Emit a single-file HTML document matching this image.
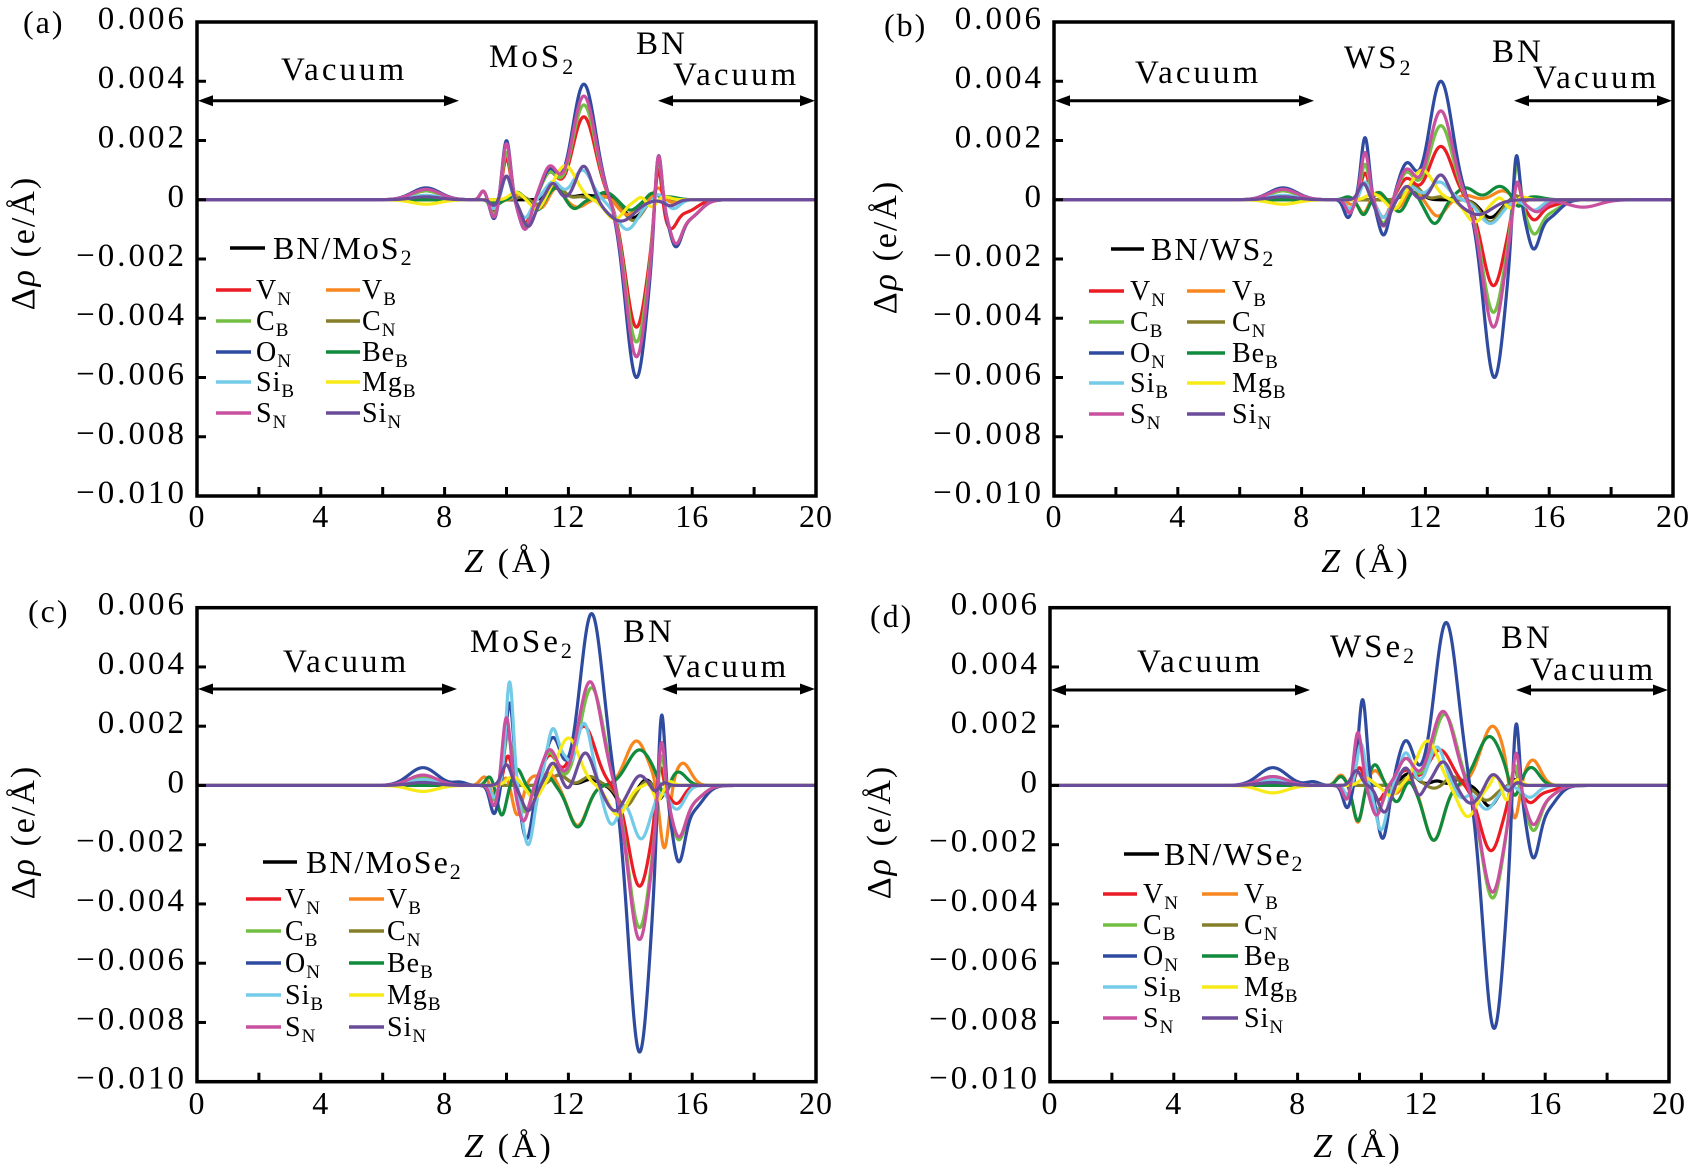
<!DOCTYPE html>
<html><head><meta charset="utf-8">
<style>
html,body{margin:0;padding:0;background:#fff;}
svg{display:block;}
text{font-family:"Liberation Serif","DejaVu Serif",serif;fill:#000;}
.yt{font-size:33px;letter-spacing:3px;text-anchor:end;}
.xt{font-size:32px;letter-spacing:1px;text-anchor:middle;}
.an{font-size:33px;letter-spacing:3px;}
.lg{font-size:28px;letter-spacing:1px;}
.lb{font-size:32px;letter-spacing:2px;}
.pl{font-size:32px;letter-spacing:2px;}
.ax{font-size:34px;letter-spacing:3px;text-anchor:middle;}
.ay{font-size:34px;letter-spacing:2px;text-anchor:middle;}
</style></head><body>
<svg id="s" width="1695" height="1166" viewBox="0 0 1695 1166" xmlns="http://www.w3.org/2000/svg">
<rect x="0" y="0" width="1695" height="1166" fill="#fff"/>
<g id="g"></g>

<!-- Panel labels -->
<text class="pl" x="23" y="33">(a)</text>
<text class="pl" x="884" y="36">(b)</text>
<text class="pl" x="28" y="622">(c)</text>
<text class="pl" x="870" y="627">(d)</text>

<!-- Y tick labels panel a -->
<text class="yt" x="187" y="29">0.006</text>
<text class="yt" x="187" y="88">0.004</text>
<text class="yt" x="187" y="147.5">0.002</text>
<text class="yt" x="187" y="207">0</text>
<text class="yt" x="187" y="266">−0.002</text>
<text class="yt" x="187" y="325">−0.004</text>
<text class="yt" x="187" y="384.5">−0.006</text>
<text class="yt" x="187" y="444">−0.008</text>
<text class="yt" x="187" y="503">−0.010</text>
<!-- panel b -->
<text class="yt" x="1044" y="29">0.006</text>
<text class="yt" x="1044" y="88">0.004</text>
<text class="yt" x="1044" y="147.5">0.002</text>
<text class="yt" x="1044" y="207">0</text>
<text class="yt" x="1044" y="266">−0.002</text>
<text class="yt" x="1044" y="325">−0.004</text>
<text class="yt" x="1044" y="384.5">−0.006</text>
<text class="yt" x="1044" y="444">−0.008</text>
<text class="yt" x="1044" y="503">−0.010</text>
<!-- panel c -->
<text class="yt" x="187" y="614.7">0.006</text>
<text class="yt" x="187" y="674">0.004</text>
<text class="yt" x="187" y="733.2">0.002</text>
<text class="yt" x="187" y="792.5">0</text>
<text class="yt" x="187" y="851.7">−0.002</text>
<text class="yt" x="187" y="911">−0.004</text>
<text class="yt" x="187" y="970.2">−0.006</text>
<text class="yt" x="187" y="1029.5">−0.008</text>
<text class="yt" x="187" y="1088.7">−0.010</text>
<!-- panel d -->
<text class="yt" x="1040" y="614.7">0.006</text>
<text class="yt" x="1040" y="674">0.004</text>
<text class="yt" x="1040" y="733.2">0.002</text>
<text class="yt" x="1040" y="792.5">0</text>
<text class="yt" x="1040" y="851.7">−0.002</text>
<text class="yt" x="1040" y="911">−0.004</text>
<text class="yt" x="1040" y="970.2">−0.006</text>
<text class="yt" x="1040" y="1029.5">−0.008</text>
<text class="yt" x="1040" y="1088.7">−0.010</text>

<!-- X tick labels -->
<text class="xt" x="197" y="527">0</text>
<text class="xt" x="320.8" y="527">4</text>
<text class="xt" x="444.6" y="527">8</text>
<text class="xt" x="568.4" y="527">12</text>
<text class="xt" x="692.2" y="527">16</text>
<text class="xt" x="816" y="527">20</text>

<text class="xt" x="1054" y="527">0</text>
<text class="xt" x="1177.8" y="527">4</text>
<text class="xt" x="1301.6" y="527">8</text>
<text class="xt" x="1425.4" y="527">12</text>
<text class="xt" x="1549.2" y="527">16</text>
<text class="xt" x="1673" y="527">20</text>

<text class="xt" x="197" y="1114">0</text>
<text class="xt" x="320.8" y="1114">4</text>
<text class="xt" x="444.6" y="1114">8</text>
<text class="xt" x="568.4" y="1114">12</text>
<text class="xt" x="692.2" y="1114">16</text>
<text class="xt" x="816" y="1114">20</text>

<text class="xt" x="1050" y="1114">0</text>
<text class="xt" x="1173.8" y="1114">4</text>
<text class="xt" x="1297.6" y="1114">8</text>
<text class="xt" x="1421.4" y="1114">12</text>
<text class="xt" x="1545.2" y="1114">16</text>
<text class="xt" x="1669" y="1114">20</text>

<!-- Axis titles -->
<text class="ax" x="509" y="572"><tspan font-style="italic">Z</tspan> (Å)</text>
<text class="ax" x="1366" y="572"><tspan font-style="italic">Z</tspan> (Å)</text>
<text class="ax" x="509" y="1157"><tspan font-style="italic">Z</tspan> (Å)</text>
<text class="ax" x="1358" y="1157"><tspan font-style="italic">Z</tspan> (Å)</text>

<text class="ay" transform="translate(22,243) rotate(-90)" y="12">Δ<tspan font-style="italic">ρ</tspan> (e/Å)</text>
<text class="ay" transform="translate(884,247) rotate(-90)" y="12">Δ<tspan font-style="italic">ρ</tspan> (e/Å)</text>
<text class="ay" transform="translate(22,832) rotate(-90)" y="12">Δ<tspan font-style="italic">ρ</tspan> (e/Å)</text>
<text class="ay" transform="translate(878,832) rotate(-90)" y="12">Δ<tspan font-style="italic">ρ</tspan> (e/Å)</text>

<!-- Annotations -->
<text class="an" x="281" y="80">Vacuum</text>
<text class="an" x="489" y="67">MoS<tspan font-size="22" dy="7">2</tspan></text>
<text class="an" x="636" y="54">BN</text>
<text class="an" x="673" y="85">Vacuum</text>

<text class="an" x="1135" y="83">Vacuum</text>
<text class="an" x="1344" y="68">WS<tspan font-size="22" dy="7">2</tspan></text>
<text class="an" x="1492" y="62">BN</text>
<text class="an" x="1533" y="88">Vacuum</text>

<text class="an" x="283" y="672">Vacuum</text>
<text class="an" x="470" y="652">MoSe<tspan font-size="22" dy="6">2</tspan></text>
<text class="an" x="623" y="642">BN</text>
<text class="an" x="663" y="677">Vacuum</text>

<text class="an" x="1137" y="672">Vacuum</text>
<text class="an" x="1330" y="657">WSe<tspan font-size="22" dy="6">2</tspan></text>
<text class="an" x="1501" y="648">BN</text>
<text class="an" x="1530" y="680">Vacuum</text>

<!-- Legends -->
<text class="lb" x="273" y="259">BN/MoS<tspan font-size="22" dy="6">2</tspan></text>
<text class="lg" x="256" y="299">V<tspan font-size="19" dy="6">N</tspan></text>
<text class="lg" x="256" y="330">C<tspan font-size="19" dy="6">B</tspan></text>
<text class="lg" x="256" y="361">O<tspan font-size="19" dy="6">N</tspan></text>
<text class="lg" x="256" y="391">Si<tspan font-size="19" dy="6">B</tspan></text>
<text class="lg" x="256" y="422">S<tspan font-size="19" dy="6">N</tspan></text>
<text class="lg" x="362" y="299">V<tspan font-size="19" dy="6">B</tspan></text>
<text class="lg" x="362" y="330">C<tspan font-size="19" dy="6">N</tspan></text>
<text class="lg" x="362" y="361">Be<tspan font-size="19" dy="6">B</tspan></text>
<text class="lg" x="362" y="391">Mg<tspan font-size="19" dy="6">B</tspan></text>
<text class="lg" x="362" y="422">Si<tspan font-size="19" dy="6">N</tspan></text>

<text class="lb" x="1151" y="260">BN/WS<tspan font-size="22" dy="6">2</tspan></text>
<text class="lg" x="1130" y="300">V<tspan font-size="19" dy="6">N</tspan></text>
<text class="lg" x="1130" y="331">C<tspan font-size="19" dy="6">B</tspan></text>
<text class="lg" x="1130" y="362">O<tspan font-size="19" dy="6">N</tspan></text>
<text class="lg" x="1130" y="392">Si<tspan font-size="19" dy="6">B</tspan></text>
<text class="lg" x="1130" y="423">S<tspan font-size="19" dy="6">N</tspan></text>
<text class="lg" x="1232" y="300">V<tspan font-size="19" dy="6">B</tspan></text>
<text class="lg" x="1232" y="331">C<tspan font-size="19" dy="6">N</tspan></text>
<text class="lg" x="1232" y="362">Be<tspan font-size="19" dy="6">B</tspan></text>
<text class="lg" x="1232" y="392">Mg<tspan font-size="19" dy="6">B</tspan></text>
<text class="lg" x="1232" y="423">Si<tspan font-size="19" dy="6">N</tspan></text>

<text class="lb" x="306" y="873">BN/MoSe<tspan font-size="22" dy="6">2</tspan></text>
<text class="lg" x="285" y="908">V<tspan font-size="19" dy="6">N</tspan></text>
<text class="lg" x="285" y="940">C<tspan font-size="19" dy="6">B</tspan></text>
<text class="lg" x="285" y="972">O<tspan font-size="19" dy="6">N</tspan></text>
<text class="lg" x="285" y="1004">Si<tspan font-size="19" dy="6">B</tspan></text>
<text class="lg" x="285" y="1036">S<tspan font-size="19" dy="6">N</tspan></text>
<text class="lg" x="387" y="908">V<tspan font-size="19" dy="6">B</tspan></text>
<text class="lg" x="387" y="940">C<tspan font-size="19" dy="6">N</tspan></text>
<text class="lg" x="387" y="972">Be<tspan font-size="19" dy="6">B</tspan></text>
<text class="lg" x="387" y="1004">Mg<tspan font-size="19" dy="6">B</tspan></text>
<text class="lg" x="387" y="1036">Si<tspan font-size="19" dy="6">N</tspan></text>

<text class="lb" x="1164" y="865">BN/WSe<tspan font-size="22" dy="6">2</tspan></text>
<text class="lg" x="1143" y="903">V<tspan font-size="19" dy="6">N</tspan></text>
<text class="lg" x="1143" y="934">C<tspan font-size="19" dy="6">B</tspan></text>
<text class="lg" x="1143" y="965">O<tspan font-size="19" dy="6">N</tspan></text>
<text class="lg" x="1143" y="996">Si<tspan font-size="19" dy="6">B</tspan></text>
<text class="lg" x="1143" y="1027">S<tspan font-size="19" dy="6">N</tspan></text>
<text class="lg" x="1244" y="903">V<tspan font-size="19" dy="6">B</tspan></text>
<text class="lg" x="1244" y="934">C<tspan font-size="19" dy="6">N</tspan></text>
<text class="lg" x="1244" y="965">Be<tspan font-size="19" dy="6">B</tspan></text>
<text class="lg" x="1244" y="996">Mg<tspan font-size="19" dy="6">B</tspan></text>
<text class="lg" x="1244" y="1027">Si<tspan font-size="19" dy="6">N</tspan></text>
</svg>
<script>
(function(){
var NS='http://www.w3.org/2000/svg';
var G=document.getElementById('g');
function el(tag,a,p){var e=document.createElementNS(NS,tag);for(var k in a)e.setAttribute(k,a[k]);(p||G).appendChild(e);return e;}
var W=619,H=474;
var COL={bk:'#000000',vn:'#ec1c24',vb:'#f7861f',cb:'#72bf44',cn:'#857f2a',on:'#2e4ba0',be:'#108a3c',sib:'#74cbe8',mg:'#f7ea16',sn:'#c8509f',sin:'#6b4c9a'};
var ORDER=['bk','cn','vb','be','vn','cb','on','sib','mg','sn','sin'];
var D={
a:{
bk:[[11.6,0.4,0.25],[12.5,0.15,0.3],[13.2,0.15,0.25],[14.1,-0.6,0.3],[14.8,0.2,0.15]],
vn:[[7.4,0.3,0.45],[9.6,-0.4,0.12],[10.0,1.4,0.13],[10.6,-0.8,0.18],[11.4,0.9,0.25],[12.5,2.8,0.37],[14.2,-4.3,0.35],[14.9,1.7,0.11],[15.3,-0.8,0.2],[15.8,-0.4,0.35]],
vb:[[9.7,-0.1,0.15],[10.4,0.2,0.15],[11.1,-0.3,0.2],[11.6,0.4,0.2],[12.3,-0.25,0.25],[13.2,0.15,0.25],[13.9,-0.5,0.3],[14.9,0.4,0.15],[15.4,-0.1,0.2]],
cb:[[7.4,0.3,0.45],[9.6,-0.5,0.12],[10.0,1.6,0.13],[10.6,-0.9,0.18],[11.4,0.9,0.25],[12.5,3.2,0.37],[14.2,-4.8,0.35],[14.9,2.0,0.11],[15.45,-1.3,0.2],[15.9,-0.6,0.35]],
cn:[[10.5,0.1,0.15],[11.1,-0.2,0.2],[11.6,0.5,0.25],[12.4,0.1,0.2],[13.2,0.1,0.2],[14.1,-0.7,0.3],[14.8,0.2,0.15]],
on:[[7.4,0.4,0.45],[9.25,0.3,0.1],[9.6,-0.65,0.12],[10.0,2.0,0.13],[10.6,-1.0,0.18],[11.4,1.0,0.25],[12.5,3.9,0.37],[14.2,-6.0,0.35],[14.9,2.3,0.11],[15.45,-1.3,0.2],[15.9,-0.6,0.35]],
be:[[9.7,-0.15,0.12],[10.35,0.25,0.15],[11.0,-0.35,0.15],[11.6,0.4,0.2],[12.2,-0.3,0.2],[13.2,0.25,0.25],[14.0,-0.35,0.25],[14.7,0.2,0.15],[15.2,0.1,0.3]],
sib:[[7.4,0.15,0.45],[9.6,-0.3,0.12],[10.0,0.8,0.13],[10.6,-0.6,0.18],[11.5,0.6,0.25],[12.45,1.0,0.3],[13.9,-1.0,0.35],[14.9,0.2,0.12],[15.4,-0.3,0.2]],
mg:[[7.4,-0.15,0.45],[10.3,0.25,0.2],[11.0,-0.35,0.2],[11.9,1.15,0.35],[13.5,-0.65,0.3],[14.35,0.1,0.12],[14.7,-0.25,0.15],[15.1,0.1,0.2]],
sn:[[7.4,0.35,0.45],[9.25,0.3,0.1],[9.6,-0.6,0.12],[10.0,1.9,0.13],[10.6,-1.0,0.18],[11.4,1.1,0.25],[12.5,3.5,0.37],[14.2,-5.3,0.35],[14.9,2.2,0.11],[15.45,-1.2,0.2],[15.9,-0.6,0.35]],
sin:[[7.4,0.1,0.45],[9.6,-0.2,0.12],[10.0,0.8,0.14],[10.7,-0.9,0.2],[11.5,0.55,0.18],[12.5,1.15,0.25],[13.7,-0.72,0.45],[15.3,-0.2,0.2]]
},
b:{
bk:[[11.6,0.4,0.25],[14.1,-0.6,0.3],[14.9,0.15,0.12]],
vn:[[7.4,0.3,0.45],[9.55,-0.3,0.12],[10.05,0.9,0.13],[10.65,-0.6,0.18],[11.4,0.7,0.25],[12.5,1.8,0.37],[14.2,-2.9,0.35],[14.95,0.9,0.11],[15.5,-0.6,0.22],[16.0,-0.2,0.35]],
vb:[[9.6,-0.15,0.12],[10.0,-0.45,0.14],[10.45,0.25,0.15],[11.1,-0.3,0.2],[11.6,0.4,0.2],[12.4,-0.55,0.25],[13.3,0.15,0.25],[14.5,0.3,0.3],[15.0,-0.2,0.15]],
cb:[[7.4,0.3,0.45],[9.55,-0.4,0.12],[10.05,1.2,0.13],[10.65,-0.8,0.18],[11.4,0.9,0.25],[12.5,2.5,0.37],[14.2,-3.8,0.35],[14.95,1.6,0.11],[15.5,-1.0,0.22],[16.0,-0.4,0.35]],
cn:[[11.6,0.5,0.25],[12.5,0.1,0.2],[14.1,-0.75,0.3],[14.9,0.15,0.15]],
on:[[7.4,0.4,0.45],[9.5,-0.6,0.13],[10.05,2.1,0.13],[10.65,-1.2,0.18],[11.4,1.2,0.25],[12.5,4.0,0.37],[14.23,-6.0,0.35],[14.93,2.3,0.11],[15.48,-1.4,0.2],[15.95,-0.6,0.35]],
be:[[9.5,0.1,0.15],[10.0,-0.5,0.15],[10.5,0.25,0.15],[11.15,-0.4,0.2],[11.6,0.3,0.15],[12.3,-0.8,0.25],[13.3,0.4,0.3],[14.4,0.45,0.3],[15.0,-0.3,0.15],[15.5,0.1,0.3]],
sib:[[7.4,0.15,0.45],[9.55,-0.3,0.12],[10.05,0.6,0.13],[10.65,-0.6,0.18],[11.5,0.45,0.25],[12.45,0.6,0.3],[14.1,-0.8,0.35],[15.5,-0.35,0.25]],
mg:[[7.4,-0.15,0.45],[10.3,0.2,0.2],[11.0,-0.35,0.2],[11.9,1.0,0.35],[13.6,-0.75,0.3],[14.4,0.1,0.12],[14.75,-0.3,0.15],[15.1,0.1,0.2]],
sn:[[7.4,0.35,0.45],[9.55,-0.45,0.12],[10.05,1.6,0.13],[10.65,-0.9,0.18],[11.4,1.0,0.25],[12.5,3.0,0.37],[14.2,-4.3,0.35],[14.95,1.0,0.11],[15.6,-0.4,0.25],[17.1,-0.25,0.5]],
sin:[[7.4,0.1,0.45],[10.0,0.55,0.15],[10.65,-0.85,0.2],[11.4,0.45,0.18],[12.5,0.85,0.25],[13.7,-0.5,0.45]]
},
c:{
bk:[[11.7,0.35,0.25],[12.7,0.2,0.25],[13.8,-0.7,0.25],[14.5,0.2,0.15],[14.95,-0.45,0.12]],
vn:[[7.3,0.3,0.45],[9.6,-0.4,0.12],[10.05,1.0,0.13],[10.6,-0.9,0.18],[11.4,1.0,0.25],[12.5,2.0,0.37],[14.3,-3.4,0.35],[14.95,1.2,0.11],[15.5,-0.6,0.22]],
vb:[[9.3,0.3,0.15],[9.6,-0.4,0.12],[10.0,0.3,0.12],[10.35,-1.0,0.15],[10.9,0.3,0.2],[11.4,0.4,0.2],[12.3,-1.35,0.3],[14.2,1.5,0.35],[15.1,-2.2,0.15],[15.7,0.75,0.25]],
cb:[[7.3,0.3,0.45],[9.6,-0.5,0.12],[10.05,1.7,0.13],[10.6,-0.9,0.18],[11.4,1.1,0.25],[12.75,3.3,0.37],[14.3,-4.8,0.35],[15.0,1.7,0.11],[15.55,-1.6,0.22],[16.0,-0.5,0.35]],
cn:[[11.7,0.35,0.25],[12.7,0.3,0.25],[13.85,-0.7,0.25],[14.5,0.15,0.15],[14.95,-0.3,0.12]],
on:[[7.3,0.6,0.45],[8.5,0.1,0.2],[9.6,-0.95,0.13],[10.1,2.8,0.13],[10.65,-1.8,0.18],[11.5,1.6,0.25],[12.75,5.8,0.37],[14.3,-9.0,0.35],[15.0,3.6,0.11],[15.55,-2.2,0.2],[16.0,-0.8,0.35]],
be:[[9.45,0.3,0.12],[9.85,-1.0,0.14],[10.35,0.55,0.15],[10.9,-0.3,0.15],[11.35,0.3,0.15],[12.3,-1.4,0.3],[14.3,1.2,0.4],[15.1,-0.55,0.15],[15.55,0.45,0.25]],
sib:[[7.3,0.2,0.45],[9.6,-0.4,0.1],[10.1,3.5,0.12],[10.7,-2.0,0.18],[11.5,1.9,0.2],[11.9,0.6,0.15],[12.5,2.1,0.25],[13.4,-1.3,0.25],[14.35,-1.8,0.3],[15.5,-0.8,0.25]],
mg:[[7.3,-0.2,0.45],[10.2,0.3,0.2],[10.9,-0.45,0.2],[12.0,1.6,0.35],[13.6,-1.0,0.3],[14.6,0.1,0.1],[14.9,-0.5,0.15],[15.25,0.15,0.15]],
sn:[[7.3,0.35,0.45],[9.6,-0.7,0.12],[10.0,2.3,0.13],[10.55,-1.2,0.18],[11.4,1.2,0.25],[12.7,3.5,0.37],[14.3,-5.2,0.35],[15.0,2.2,0.11],[15.55,-1.5,0.22],[16.0,-0.5,0.35]],
sin:[[7.3,0.1,0.45],[10.0,0.7,0.15],[10.7,-0.85,0.2],[11.5,0.75,0.2],[12.0,-0.2,0.15],[12.55,1.1,0.25],[13.5,-0.85,0.3],[14.3,0.35,0.2],[14.8,-0.2,0.12],[15.1,0.1,0.12]]
},
d:{
bk:[[11.6,0.4,0.25],[12.5,0.15,0.2],[13.2,0.2,0.2],[14.2,-0.7,0.25],[15.0,0.2,0.12]],
vn:[[7.2,0.25,0.45],[9.6,-0.3,0.12],[10.0,0.6,0.13],[10.6,-0.5,0.18],[11.5,0.5,0.25],[12.6,1.2,0.37],[14.25,-2.2,0.35],[15.0,0.8,0.11],[15.5,-0.5,0.22],[16.0,-0.2,0.35]],
vb:[[9.4,0.35,0.15],[9.95,-1.25,0.15],[10.5,0.5,0.2],[11.2,-0.3,0.2],[11.6,0.3,0.2],[12.4,-1.85,0.3],[14.3,2.0,0.38],[15.0,-1.5,0.15],[15.6,0.85,0.25]],
cb:[[7.2,0.3,0.45],[9.6,-0.4,0.12],[10.0,1.5,0.13],[10.6,-0.8,0.18],[11.5,0.9,0.25],[12.75,2.4,0.37],[14.3,-3.8,0.35],[15.0,1.2,0.11],[15.6,-1.3,0.22],[16.0,-0.4,0.35]],
cn:[[11.7,0.3,0.25],[12.4,-0.1,0.2],[13.0,0.3,0.2],[14.1,-0.5,0.3],[15.0,0.1,0.12]],
on:[[7.2,0.6,0.45],[8.5,0.12,0.2],[9.6,-0.75,0.13],[10.1,2.9,0.13],[10.75,-1.8,0.18],[11.5,1.5,0.25],[12.8,5.5,0.37],[14.35,-8.2,0.35],[15.05,3.2,0.11],[15.6,-2.0,0.2],[16.0,-0.8,0.35]],
be:[[9.4,0.3,0.15],[9.95,-1.2,0.15],[10.5,0.7,0.18],[11.2,-0.55,0.18],[11.6,0.2,0.15],[12.4,-1.85,0.3],[14.2,1.65,0.4],[15.0,-0.6,0.15],[15.55,0.6,0.25]],
sib:[[7.2,0.2,0.45],[9.6,-0.3,0.1],[10.05,1.4,0.13],[10.7,-1.5,0.18],[11.5,1.1,0.2],[12.5,1.3,0.25],[13.3,-0.4,0.2],[14.1,-0.8,0.3],[15.5,-0.4,0.25]],
mg:[[7.2,-0.25,0.45],[10.2,0.25,0.2],[11.0,-0.35,0.2],[12.2,1.5,0.35],[13.5,-1.05,0.3],[14.4,0.35,0.12],[14.75,-0.5,0.12],[15.1,0.2,0.15]],
sn:[[7.2,0.3,0.45],[9.6,-0.5,0.12],[9.95,1.8,0.13],[10.55,-1.0,0.18],[11.5,0.9,0.25],[12.7,2.5,0.37],[14.3,-3.6,0.35],[15.05,1.5,0.11],[15.6,-1.1,0.22],[16.0,-0.4,0.35]],
sin:[[7.2,0.1,0.45],[9.9,0.5,0.15],[10.8,-0.9,0.2],[11.5,0.6,0.2],[11.9,-0.4,0.15],[12.7,0.8,0.25],[13.6,-0.6,0.3],[14.3,0.4,0.2],[14.8,-0.2,0.12],[15.1,0.1,0.12]]
}
};
var PAN={
a:{x0:197,y0:22,arr:[198,459,658,815,100.7],
   leg:{bk:[230,265,248],c1:[216,251],c2:[326,360],rows:[290,321,352,382,413]}},
b:{x0:1054,y0:22,arr:[1055,1314,1514,1672,100.7],
   leg:{bk:[1111,1144,249],c1:[1089,1124],c2:[1187,1225],rows:[291,322,353,383,414]}},
c:{x0:197,y0:607.7,arr:[198,457,662,815,689],
   leg:{bk:[263,297,862],c1:[246,281],c2:[349,384],rows:[899,931,963,995,1027]}},
d:{x0:1050,y0:607.7,arr:[1051,1310,1516,1668,690],
   leg:{bk:[1124,1159,854],c1:[1103,1137],c2:[1202,1238],rows:[894,925,956,987,1018]}}
};
var C1=['vn','cb','on','sib','sn'],C2=['vb','cn','be','mg','sin'];
var defs=el('defs',{});
function f(g,x){var s=0;for(var i=0;i<g.length;i++){var d=(x-g[i][0])/g[i][2];if(d<7&&d>-7)s+=g[i][1]*Math.exp(-0.5*d*d);}return s;}
for(var pk in PAN){
  var P=PAN[pk],x0=P.x0,y0=P.y0;
  var cp=el('clipPath',{id:'cp'+pk},defs);
  el('rect',{x:x0,y:y0,width:W,height:H},cp);
  var gg=el('g',{'clip-path':'url(#cp'+pk+')'});
  for(var oi=0;oi<ORDER.length;oi++){
    var key=ORDER[oi],g=D[pk][key],d='';
    for(var i=0;i<=2000;i++){
      var x=i*0.01,v=f(g,x);
      var px=x0+x*W/20,py=y0+(6-v)/16*H;
      d+=(i?'L':'M')+px.toFixed(2)+' '+py.toFixed(2);
    }
    el('path',{d:d,fill:'none',stroke:COL[key],'stroke-width':3.2,'stroke-linejoin':'round','stroke-linecap':'round'},gg);
  }
  // frame
  el('rect',{x:x0,y:y0,width:W,height:H,fill:'none',stroke:'#000','stroke-width':3.5});
  // x ticks
  for(var k=1;k<10;k++){var tx=x0+2*k*W/20;el('line',{x1:tx,y1:y0+H,x2:tx,y2:y0+H-9,stroke:'#000','stroke-width':3});}
  // y ticks
  for(var vv=4;vv>=-8;vv-=2){var ty=y0+(6-vv)/16*H;el('line',{x1:x0,y1:ty,x2:x0+9,y2:ty,stroke:'#000','stroke-width':3});}
  // arrows
  var A=P.arr,ay=A[4];
  [[A[0],A[1]],[A[2],A[3]]].forEach(function(s){
    el('line',{x1:s[0]+10,y1:ay,x2:s[1]-10,y2:ay,stroke:'#000','stroke-width':3});
    el('polygon',{points:s[0]+','+ay+' '+(s[0]+15)+','+(ay-5.5)+' '+(s[0]+15)+','+(ay+5.5),fill:'#000'});
    el('polygon',{points:s[1]+','+ay+' '+(s[1]-15)+','+(ay-5.5)+' '+(s[1]-15)+','+(ay+5.5),fill:'#000'});
  });
  // legend lines
  var L=P.leg;
  el('line',{x1:L.bk[0],y1:L.bk[2],x2:L.bk[1],y2:L.bk[2],stroke:'#000','stroke-width':3.5});
  for(var r=0;r<5;r++){
    el('line',{x1:L.c1[0],y1:L.rows[r],x2:L.c1[1],y2:L.rows[r],stroke:COL[C1[r]],'stroke-width':3.5});
    el('line',{x1:L.c2[0],y1:L.rows[r],x2:L.c2[1],y2:L.rows[r],stroke:COL[C2[r]],'stroke-width':3.5});
  }
}
})();
</script>
</body></html>
